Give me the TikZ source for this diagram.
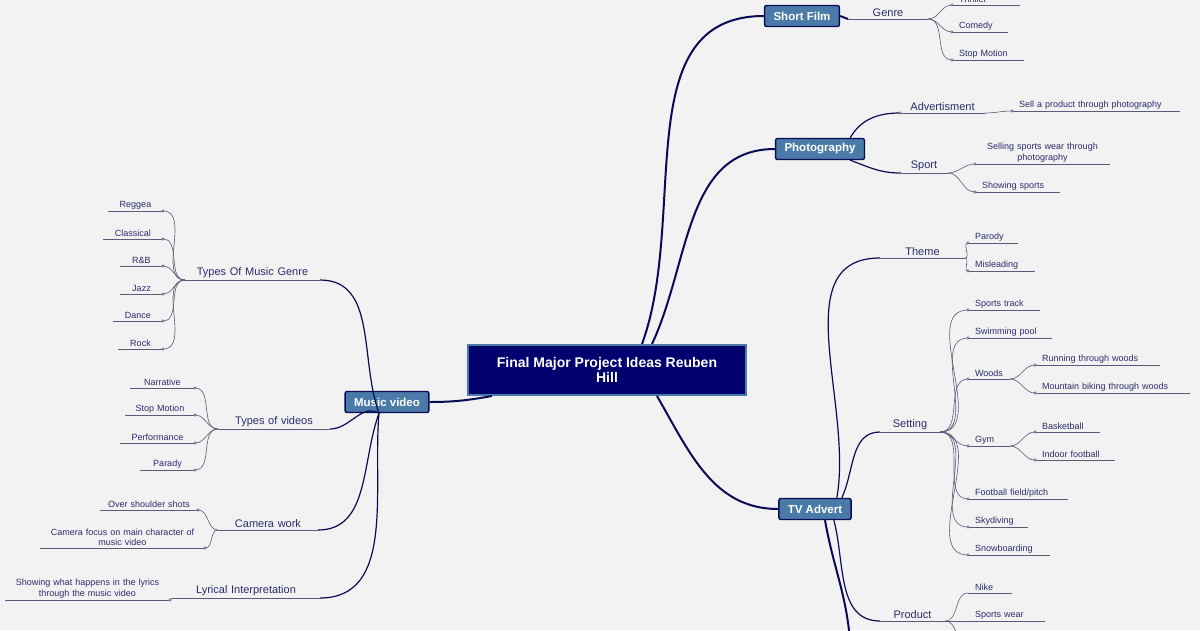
\documentclass[tikz,border=0pt]{standalone}
\usepackage{fontspec}
\setmainfont{Liberation Sans}
\definecolor{bg}{HTML}{F2F2F2}
\definecolor{ink}{HTML}{2B2B6E}
\definecolor{thin}{HTML}{5A5A7A}
\definecolor{thick}{HTML}{0B0B55}
\definecolor{boxfill}{HTML}{4A7BA8}
\definecolor{central}{HTML}{00006E}
\newcommand\leafR[6][]{\pgfmathsetmacro\lw{#4-#3-14}\node[leafr,text width=\lw pt,#1] (#2) at (#3,#5) {#6};}
\newcommand\leafL[6][]{\pgfmathsetmacro\lw{#4-#3-8}\node[leafl,text width=\lw pt,#1] (#2) at (#3,#5) {#6};}
\newcommand\brC[6][]{\pgfmathsetmacro\lw{#4-#3-8}\node[brc,text width=\lw pt,#1] (#2) at (#3,#5) {#6};}
\tikzset{
 base/.style={anchor=south west,outer sep=0pt,inner ysep=2pt,text=ink,
   append after command={(\tikzlastnode.south west) edge[draw=thin,line width=0.6pt] (\tikzlastnode.south east)}},
 leafr/.style={base,inner xsep=7pt,align=left,font=\fontsize{9}{10.5}\selectfont},
 leafl/.style={base,inner xsep=4pt,align=center,font=\fontsize{9}{10.5}\selectfont},
 brc/.style={base,inner xsep=4pt,align=center,font=\fontsize{11}{12}\selectfont},
 topbox/.style={draw=thick,line width=1.4pt,fill=boxfill,rounded corners=2pt,text=white,font=\bfseries\fontsize{11.5}{12}\selectfont,minimum height=21pt,inner xsep=9pt},
 linkthin/.style={draw=thin,line width=0.6pt},
 linkthick/.style={draw=thick,line width=2pt},
 linkmid/.style={draw=thick,line width=1.2pt},
 dot/.style={circle,draw=thin,fill=bg,inner sep=0.9pt,line width=0.5pt}
}
\begin{document}
\begin{tikzpicture}[x=1pt,y=-1pt]
\fill[bg] (0,0) rectangle (1200,630);
\useasboundingbox (0,0) rectangle (1200,630);
% central
\node[draw=boxfill,line width=2pt,fill=central,text=white,font=\bfseries\fontsize{14}{15}\selectfont,minimum width=278pt,minimum height=50pt,align=center] (C) at (607,370) {Final Major Project Ideas Reuben\\Hill};
\node[topbox] (SF) at (802,16) {Short Film};
\node[topbox] (PH) at (820,149) {Photography};
\node[topbox] (TV) at (815,509) {TV Advert};
\node[topbox] (MV) at (387,402) {Music video};
\coordinate (below) at (850,640);
\draw[linkthick] (C.north)++(35,0) to[out=70,in=180] (SF.west);
\draw[linkthick] (C.north)++(45,0) to[out=65,in=180] (PH.west);
\draw[linkthick] (C.south)++(50,0) to[out=-60,in=180] (TV.west);
\draw[linkthick] (C.south west)++(25,0) to[out=190,in=0] (MV.east);
\draw[linkthick] (TV.south)++(10,0) to[out=-80,in=95] (below);
% short film
\brC{genre}{848}{928}{19}{Genre}
\draw[linkthick] (SF.east) -- (genre.south west);
\leafR{thr}{952}{1020}{5}{Thriller}
\leafR{com}{952}{1008}{32}{Comedy}
\leafR{stm}{952}{1024}{60}{Stop Motion}
\foreach \c in {thr,com,stm}\draw[linkthin] (genre.south east) to[out=0,in=180] node[pos=1,dot]{} (\c.south west);
% photography
\brC{adv}{900}{985}{113}{Advertisment}
\brC{spo}{900}{948}{173}{Sport}
\draw[linkmid] (PH.north east)++(-15,0) to[out=60,in=180] node[pos=1,dot]{} (adv.south west);
\draw[linkmid] (PH.south east)++(-15,0) to[out=-20,in=180] node[pos=1,dot]{} (spo.south west);
\leafR{sell}{1012}{1180}{111}{Sell a product through photography}
\draw[linkthin] (adv.south east) to[out=0,in=180] node[pos=1,dot]{} (sell.south west);
\leafR[align=center]{sw}{975}{1110}{164}{Selling sports wear through\\photography}
\leafR{ss}{975}{1060}{192}{Showing sports}
\foreach \c in {sw,ss}\draw[linkthin] (spo.south east) to[out=0,in=180] node[pos=1,dot]{} (\c.south west);
% TV advert
\brC{theme}{880}{965}{258}{Theme}
\brC{set}{880}{940}{432}{Setting}
\brC{prod}{880}{945}{621}{Product}
\draw[linkmid] (TV.north east)++(-15,0) to[out=80,in=180] (theme.south west);
\draw[linkmid] (TV.north east)++(-10,0) to[out=65,in=180] (set.south west);
\draw[linkmid] (TV.south east)++(-18,0) to[out=-75,in=180] (prod.south west);
\leafR{par}{968}{1018}{243}{Parody}
\leafR{mis}{968}{1035}{271}{Misleading}
\foreach \c in {par,mis}\draw[linkthin] (theme.south east) to[out=0,in=180] node[pos=1,dot]{} (\c.south west);
\leafR{st}{968}{1040}{310}{Sports track}
\leafR{sp}{968}{1052}{338}{Swimming pool}
\leafR{woods}{968}{1010}{379}{Woods}
\leafR{gym}{968}{1010}{446}{Gym}
\leafR{ff}{968}{1068}{499}{Football field/pitch}
\leafR{sky}{968}{1028}{527}{Skydiving}
\leafR{snow}{968}{1050}{555}{Snowboarding}
\foreach \c in {st,sp,woods,gym,ff,sky,snow}\draw[linkthin] (set.south east) to[out=0,in=180] node[pos=1,dot]{} (\c.south west);
\leafR{rtw}{1035}{1160}{365}{Running through woods}
\leafR{mbw}{1035}{1190}{393}{Mountain biking through woods}
\foreach \c in {rtw,mbw}\draw[linkthin] (woods.south east) to[out=0,in=180] node[pos=1,dot]{} (\c.south west);
\leafR{bb}{1035}{1100}{432}{Basketball}
\leafR{inf}{1035}{1115}{460}{Indoor football}
\foreach \c in {bb,inf}\draw[linkthin] (gym.south east) to[out=0,in=180] node[pos=1,dot]{} (\c.south west);
\leafR{nike}{968}{1012}{593}{Nike}
\leafR{swr}{968}{1045}{621}{Sports wear}
\coordinate (prodmore) at (968,645);
\foreach \c in {nike.south west,swr.south west,prodmore}\draw[linkthin] (prod.south east) to[out=0,in=180] (\c);
% music video
\brC{tmg}{185}{320}{280}{Types Of Music Genre}
\brC{tov}{218}{330}{429}{Types of videos}
\brC{camw}{218}{318}{530}{Camera work}
\brC{lyr}{172}{320}{598}{Lyrical Interpretation}
\draw[linkmid] (MV.south)++(-8,0) to[out=110,in=0] (tmg.south east);
\draw[linkmid] (MV.south)++(-8,0) to[out=150,in=0] (tov.south east);
\draw[linkmid] (MV.south)++(-8,0) to[out=-110,in=0] (camw.south east);
\draw[linkmid] (MV.south)++(-8,0) to[out=-95,in=0] (lyr.south east);
\leafL{reg}{108}{163}{211}{Reggea}
\leafL{cla}{103}{163}{239}{Classical}
\leafL{rb}{120}{163}{266}{R\&B}
\leafL{jaz}{120}{163}{294}{Jazz}
\leafL{dan}{113}{163}{321}{Dance}
\leafL{roc}{118}{163}{349}{Rock}
\foreach \c in {reg,cla,rb,jaz,dan,roc}\draw[linkthin] (tmg.south west) to[out=180,in=0] node[pos=1,dot]{} (\c.south east);
\leafL{nar}{130}{195}{388}{Narrative}
\leafL{smo}{125}{195}{415}{Stop Motion}
\leafL{perf}{120}{195}{443}{Performance}
\leafL{pdy}{140}{195}{470}{Parady}
\foreach \c in {nar,smo,perf,pdy}\draw[linkthin] (tov.south west) to[out=180,in=0] node[pos=1,dot]{} (\c.south east);
\leafL{oss}{100}{198}{510}{Over shoulder shots}
\leafL{cf}{40}{205}{548}{Camera focus on main character of\\music video}
\foreach \c in {oss,cf}\draw[linkthin] (camw.south west) to[out=180,in=0] node[pos=1,dot]{} (\c.south east);
\leafL{swh}{5}{170}{600}{Showing what happens in the lyrics\\through the music video}
\draw[linkthin] (lyr.south west) to[out=180,in=0] node[pos=1,dot]{} (swh.south east);
\end{tikzpicture}
\end{document}
